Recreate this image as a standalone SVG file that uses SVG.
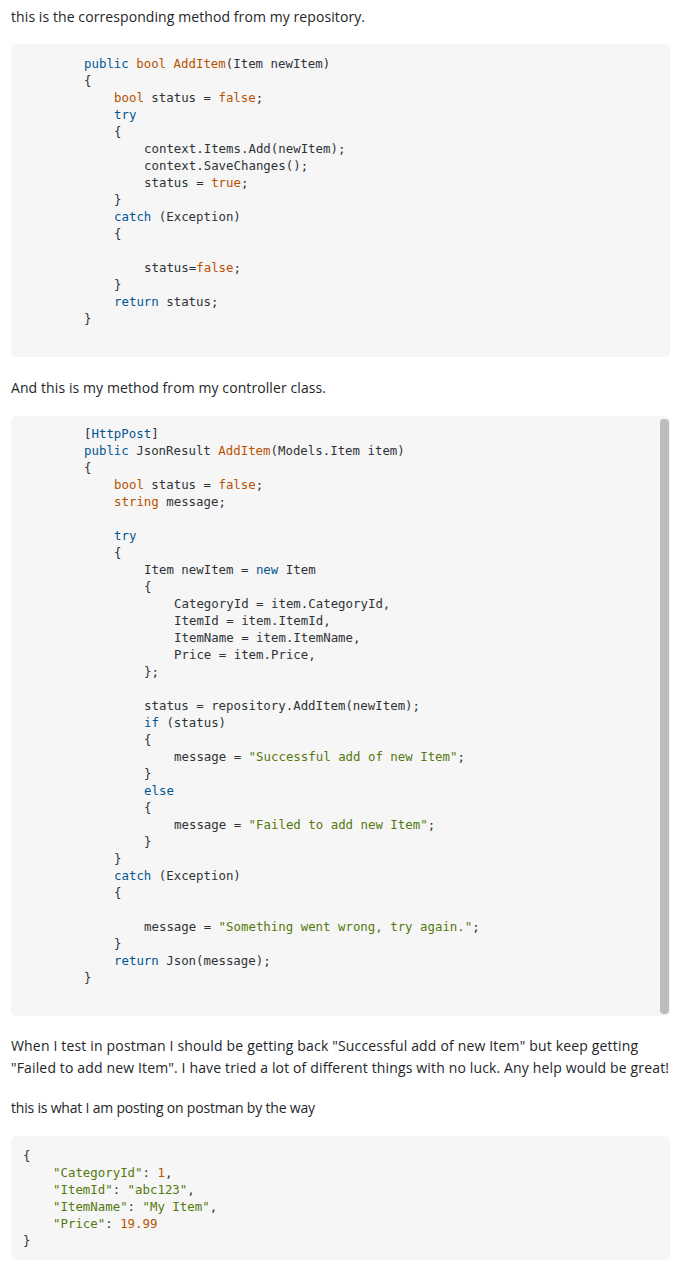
<svg xmlns="http://www.w3.org/2000/svg" width="684" height="1261" viewBox="0 0 684 1261">
<style>
.p{font-family:"Open Sans","Noto Sans",sans-serif;font-size:14px;fill:#232629}
.c{font-family:"DejaVu Sans Mono","Liberation Mono",monospace;font-size:12.4px;fill:#2f3337;white-space:pre}
.k{fill:#015692}.t{fill:#b75301}.s{fill:#54790d}
.bg{fill:#f6f6f6}
</style>
<rect width="684" height="1261" fill="#fff"/>
<text class="p" x="11" y="22" textLength="354">this is the corresponding method from my repository.</text>
<rect class="bg" x="11" y="44" width="659" height="313" rx="5"/>
<g class="c">
<text x="84" y="68"><tspan class="k">public</tspan> <tspan class="t">bool</tspan> <tspan class="t">AddItem</tspan>(Item newItem)</text>
<text x="84" y="85">{</text>
<text x="114" y="102"><tspan class="t">bool</tspan> status = <tspan class="t">false</tspan>;</text>
<text x="114" y="119" class="k">try</text>
<text x="114" y="136">{</text>
<text x="144" y="153">context.Items.Add(newItem);</text>
<text x="144" y="170">context.SaveChanges();</text>
<text x="144" y="187">status = <tspan class="t">true</tspan>;</text>
<text x="114" y="204">}</text>
<text x="114" y="221"><tspan class="k">catch</tspan> (Exception)</text>
<text x="114" y="238">{</text>
<text x="144" y="272">status=<tspan class="t">false</tspan>;</text>
<text x="114" y="289">}</text>
<text x="114" y="306"><tspan class="k">return</tspan> status;</text>
<text x="84" y="323">}</text>
</g>
<text class="p" x="11" y="393" textLength="315">And this is my method from my controller class.</text>
<rect class="bg" x="11" y="416" width="659" height="600" rx="5"/>
<rect x="660" y="419" width="9" height="595" rx="4" fill="#bcbcbc"/>
<g class="c">
<text x="84" y="438">[<tspan class="k">HttpPost</tspan>]</text>
<text x="84" y="455"><tspan class="k">public</tspan> JsonResult <tspan class="t">AddItem</tspan>(Models.Item item)</text>
<text x="84" y="472">{</text>
<text x="114" y="489"><tspan class="t">bool</tspan> status = <tspan class="t">false</tspan>;</text>
<text x="114" y="506"><tspan class="t">string</tspan> message;</text>
<text x="114" y="540" class="k">try</text>
<text x="114" y="557">{</text>
<text x="144" y="574">Item newItem = <tspan class="k">new</tspan> Item</text>
<text x="144" y="591">{</text>
<text x="174" y="608">CategoryId = item.CategoryId,</text>
<text x="174" y="625">ItemId = item.ItemId,</text>
<text x="174" y="642">ItemName = item.ItemName,</text>
<text x="174" y="659">Price = item.Price,</text>
<text x="144" y="676">};</text>
<text x="144" y="710">status = repository.AddItem(newItem);</text>
<text x="144" y="727"><tspan class="k">if</tspan> (status)</text>
<text x="144" y="744">{</text>
<text x="174" y="761">message = <tspan class="s">"Successful add of new Item"</tspan>;</text>
<text x="144" y="778">}</text>
<text x="144" y="795" class="k">else</text>
<text x="144" y="812">{</text>
<text x="174" y="829">message = <tspan class="s">"Failed to add new Item"</tspan>;</text>
<text x="144" y="846">}</text>
<text x="114" y="863">}</text>
<text x="114" y="880"><tspan class="k">catch</tspan> (Exception)</text>
<text x="114" y="897">{</text>
<text x="144" y="931">message = <tspan class="s">"Something went wrong, try again."</tspan>;</text>
<text x="114" y="948">}</text>
<text x="114" y="965"><tspan class="k">return</tspan> Json(message);</text>
<text x="84" y="982">}</text>
</g>
<text class="p" x="11" y="1051" textLength="627">When I test in postman I should be getting back "Successful add of new Item" but keep getting</text>
<text class="p" x="11" y="1073" textLength="658">"Failed to add new Item". I have tried a lot of different things with no luck. Any help would be great!</text>
<text class="p" x="11" y="1113" textLength="304">this is what I am posting on postman by the way</text>
<rect class="bg" x="11" y="1136" width="659" height="124" rx="5"/>
<g class="c">
<text x="23" y="1160">{</text>
<text x="53" y="1177"><tspan class="s">"CategoryId"</tspan>: <tspan class="t">1</tspan>,</text>
<text x="53" y="1194"><tspan class="s">"ItemId"</tspan>: <tspan class="s">"abc123"</tspan>,</text>
<text x="53" y="1211"><tspan class="s">"ItemName"</tspan>: <tspan class="s">"My Item"</tspan>,</text>
<text x="53" y="1228"><tspan class="s">"Price"</tspan>: <tspan class="t">19.99</tspan></text>
<text x="23" y="1245">}</text>
</g>
</svg>
